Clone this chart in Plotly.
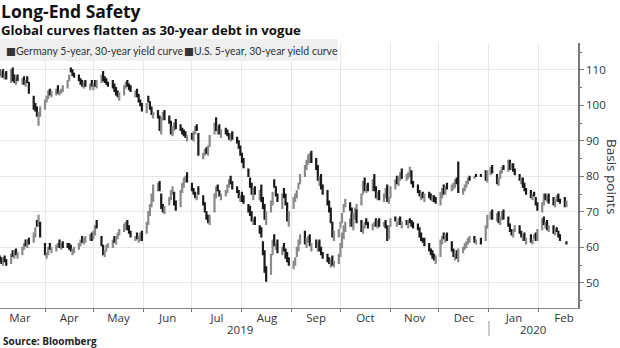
import pandas as pd
import plotly.graph_objects as go

# ---- data (weekly rows of business days, Mon..Fri; None = holiday) ----
start_date = "2019-03-04"

de_open = [
    [110,108,110,107.5,109.5],[106.5,110.5,108.5,106,108.5],[106,108,105.5,108,106.5],
    [102.5,100.5,99.5,94.5,97],[99,101,102,104.5,102.5],[103,105.5,103,103.5,104],
    [105,107,110.5,110,109],[108.5,107.5,107,105,107],[104.5,107,104.5,107,105],
    [106.5,109.5,108,107.5,106.5],[107,106,105,104,101.5],[103,105,107,106,105.5],
    [102.5,104.5,103,101.5,100.5],[98,102.5,101,99.5,96.5],[98.5,97,92,96,98.5],
    [97,95.5,91.5,93,96],[94.5,93.5,93,92.5,90],[92,90,92,94.5,92],
    [85,86,88,86,88.5],[92,96.5,92,94.5,91],[93.5,93,92,90,92.5],
    [91,90,88.5,86.5,85],[82,79.5,78,73.5,77],[73.5,77.5,74,72,66.5],
    [70,72,79,77,75],[71,76.5,75,72.5,66],[71,73,74,76.5,78],
    [80,82,83.5,84,87],[85,83,77.5,80.5,77.5],[76,73,71,67,62],
    [63,65.5,67,70,71.5],[72.5,71,68,69.5,70.5],[72,75,79.5,75.5,78],
    [76,80.5,77,73.5,76],[73,74,77.5,72.5,74],[76.5,80,77.5,79,82],
    [79,79.5,80,81.5,78.5],[77.5,76,73.5,75.5,73],[75.5,75,73,74.5,74],
    [72,74,77.5,75,78],[76,76.5,77,79.5,84],[75,76,77,78,80],
    [79.5,80.5,None,None,80.5],[81.5,78.5,None,80.5,83],[80.5,77.5,79.5,81,83],
    [81.5,84.5,82,83.5,82],[80.5,78,79.5,78,76.5],[76,73.5,75.5,74,72.5],
    [70,72,75,73,75],[74,71.5,73,75,73.5],[74,71.5],
]
de_close = [
    [108.5,109.5,108,109,107.5],[110,107,106.5,108,107],[107.5,106,107,106.5,103.5],
    [99,98.5,97,98,99.5],[101.5,102.5,104,103,104],[104.5,103.5,104,104.5,105.5],
    [107,108.5,109.5,108.5,108],[107,106,105.5,106.5,105.5],[106,105.5,106,105.5,107],
    [108.5,107,106.5,106,105.5],[105,104,103,102.5,103.5],[105.5,106.5,105.5,104.5,104],
    [104,102.5,101,100,98.5],[100.5,101,99,97.5,98],[96.5,93,96.5,98,96],
    [95,92,94,95,93.5],[93,92,91.5,91,91.5],[90.5,92.5,94,93,86],
    [86.5,87.5,86.5,88.5,91.5],[95,93,94,92,93],[92,91.5,90.5,92,90.5],
    [89.5,88,86,84,82.5],[80,77,75,76.5,75],[76,73,71,68,70],
    [73,75.5,77,74.5,73],[75,74,72,67.5,70],[74,75,76,78,80.5],
    [83,84.5,86,86.5,84],[82,79,80,76.5,75],[72,70,67,63,64.5],
    [65,67,69.5,72,73.5],[70.5,68.5,69.5,71,72],[75,78.5,76,77.5,76],
    [79,76,74,75.5,73.5],[75,76.5,73,74,77],[79,78,80,81,79.5],
    [80.5,81,82.5,78,77],[75.5,74.5,75,74,75],[74,73.5,74.5,73,72.5],
    [75.5,76.5,75,77,76.5],[77.5,78,79,78,75.5],[76.5,77.5,78.5,79.5,79],
    [80,80,None,None,80],[79,81.5,None,82.5,81],[78,79.5,81.5,82.5,82],
    [84.5,82,83.5,81.5,80.5],[79,79.5,77,76,75],[74,75,74.5,72,70.5],
    [72.5,75,73.5,74.5,72.5],[72,73.5,74.5,73,72.5],[71.5,73],
]

us_open = [
    [57.5,57,55,57.5,56.5],[55.5,59,57,59.5,57],[58,59.5,62,60,62.5],
    [61.5,63,67.5,66,67],[61,57,58,61,58.5],[59,60,62,59.5,61.5],
    [61,61,60.5,58,58.5],[59.5,60.5,63,61,61.5],[62,64,62.5,63.5,67.5],
    [63,60.5,57.5,59,60],[60,63,61,62.5,63.5],[64.5,65,67.5,66,64.5],
    [62,64,61.5,62,64.5],[64,66.5,69,71.5,73],[76,78.5,75,72,69.5],
    [72,73.5,75,75.5,73],[71.5,75.5,77,78.5,81],[78,76.5,75.5,73.5,77],
    [74.5,72.5,70,69,66.5],[70,74,77.5,76,73.5],[74.5,75.5,77,80,78.5],
    [77,76,73,75.5,74.5],[72,71.5,70,66.5,68.5],[66,65.5,61.5,59,54.5],
    [52.5,58,63.5,59.5,62],[58,61,59.5,58.5,57],[54,55,57.5,59,61],
    [64.5,60,61.5,63.5,59],[62,59,62,60,58.5],[58,57,54.5,57.5,54.5],
    [55.5,57.5,60,62.5,64.5],[66,69,65,68,70.5],[67.5,64,65.5,68,67],
    [65,66,68,65.5,68],[66,67.5,66,62.5,66],[68.5,66,66.5,68.5,65.5],
    [67.5,65.5,68,67.5,67],[66.5,65.5,64,62.5,62.5],[61,59.5,59,58,55.5],
    [57.5,61,64,61.5,64],[61.5,59.5,56.5,59,56],[58.5,59.5,60,61,61.5],
    [63,61,None,None,62.5],[62,65.5,None,68,70.5],[67.5,70,66.5,68,70.5],
    [68.5,66.5,65,63,64.5],[66,64.5,62,64,61],[63.5,61,62.5,64,62],
    [65,68.5,65.5,67.5,64.5],[66,63.5,65.5,64.5,63.5],[None,61.5],
]
us_close = [
    [56,55.5,57,56,55],[58,57.5,59,58,58.5],[60,61,60.5,62,61],
    [64,65.5,66,69,63],[58,58.5,60,59.5,60],[60.5,61,60,61,60],
    [60,59.5,59,59.5,60],[61,62,61.5,62.5,63],[63.5,62,64.5,66,65.5],
    [60.5,58,59,60.5,61],[62,61.5,63,64,65],[66.5,67,65,64,63],
    [63,62.5,63,64,62],[67,70,72,75,77.5],[78,76,71,70,71.5],
    [74,76,77,72,70.5],[76,78,79.5,80,78.5],[76,75,74,74.5,75],
    [72,70,68,67,69],[75,77,76,74.5,75],[76,77.5,79,78,76.5],
    [75.5,74,74.5,73,72.5],[70,69,67.5,68,66.5],[64,63,58,53,50.5],
    [58,62,60.5,61,58.5],[60,59,57,56,55],[56,57,60,62,63.5],
    [61,62.5,63,60.5,61],[60,61.5,59,58,57],[56,55.5,56.5,55,56],
    [58,61,64,66,67],[68,66,69,70,67],[64.5,66,67,66.5,65.5],
    [66.5,67,66,67.5,66],[67,65.5,62,66,68],[67.5,67,68,66.5,67],
    [66.5,67.5,67,66,65.5],[65,63,62,61.5,60.5],[59,58,57,56.5,57.5],
    [62,63,62.5,63.5,62],[59,57.5,58,57,59.5],[60,61,61.5,62.5,63],
    [61.5,62,None,None,61],[66,69,None,70,68],[69.5,67,68.5,70,68],
    [66,64.5,63.5,65,66],[64,63,63.5,62,62.5],[61.5,62,63.5,62,65],
    [68,66.5,67,65,66],[64,65,64.5,63,62],[None,61],
]

series_names = ["Germany 5-year, 30-year yield curve", "U.S. 5-year, 30-year yield curve"]
y_ticks = [50, 60, 70, 80, 90, 100, 110]
year_labels = [("2019", "2019-07-31"), ("2020", "2020-01-28")]
title = "Long-End Safety"
subtitle = "Global curves flatten as 30-year debt in vogue"

# ---- build figure ----
W, H = 620, 348
L, R, T, B = 0, 42, 43, 40
plot_h = H - T - B


def py(px):
    """pixel from top -> paper y"""
    return (H - B - px) / plot_h


def px_x(px):
    return (px - L) / (W - L - R)


def flat(rows):
    return [v for r in rows for v in r]


def frame(op_rows, cl_rows):
    o = flat(op_rows)
    c = flat(cl_rows)
    d = pd.bdate_range(start_date, periods=len(o))
    df = pd.DataFrame({"date": d, "open": o, "close": c}).dropna()
    df["high"] = df[["open", "close"]].max(axis=1)
    df["low"] = df[["open", "close"]].min(axis=1)
    return df


fig = go.Figure()
for op, cl, name in [(de_open, de_close, series_names[0]), (us_open, us_close, series_names[1])]:
    df = frame(op, cl)
    fig.add_trace(go.Candlestick(
        x=df["date"], open=df["open"], high=df["high"], low=df["low"], close=df["close"],
        name=name, showlegend=False, whiskerwidth=0,
        increasing=dict(line=dict(color="#8a8a8a", width=1.4), fillcolor="#8a8a8a"),
        decreasing=dict(line=dict(color="#1a1a1a", width=1.4), fillcolor="#1a1a1a"),
    ))

font_main = "Open Sans, Roboto, DejaVu Sans, sans-serif"
font_legend = "Lato, Roboto, DejaVu Sans, sans-serif"

fig.update_layout(
    width=W, height=H,
    margin=dict(l=L, r=R, t=T, b=B, pad=0),
    paper_bgcolor="white", plot_bgcolor="white",
    font=dict(family=font_main, size=11, color="#333333"),
    xaxis=dict(
        type="date",
        range=["2019-03-04 03:00", "2020-02-25 04:00"],
        rangeslider=dict(visible=False),
        dtick="M1", tick0="2019-03-01", tickformat="%b", ticklabelmode="period",
        ticks="outside", ticklen=3, tickcolor="#777777", tickwidth=1,
        ticklabelstandoff=-4,
        showgrid=True, gridcolor="#e6e6e6", gridwidth=1,
        showline=True, linecolor="#888888", linewidth=1,
        tickfont=dict(size=11.5, color="#333333"),
        zeroline=False, fixedrange=True,
    ),
    yaxis=dict(
        side="right", range=[42.9, 117.6],
        tickvals=y_ticks, ticks="outside", ticklen=4, tickcolor="#777777",
        minor=dict(dtick=5, tick0=0, ticks="outside", ticklen=2, tickcolor="#777777", showgrid=False),
        showgrid=True, gridcolor="#e6e6e6", gridwidth=1,
        showline=True, linecolor="#777777", linewidth=1.5,
        tickfont=dict(size=11.5, color="#333333"),
        zeroline=False, fixedrange=True,
    ),
)

# legend band
fig.add_shape(type="rect", xref="paper", yref="paper",
              x0=px_x(0), x1=px_x(338), y0=py(61), y1=py(39),
              fillcolor="#efefef", line=dict(width=0), layer="above")

ann = []
ann.append(dict(
    text=("<span style='font-size:17.5px'><b>" + title + "</b></span><br>"
          "<b>" + subtitle + "</b>"),
    x=px_x(0), y=py(40), xref="paper", yref="paper",
    xanchor="left", yanchor="bottom", align="left", showarrow=False, borderpad=0,
    font=dict(family=font_main, size=13.2, color="#111111")))
ann.append(dict(text="<b>Source: Bloomberg</b>", x=px_x(1), y=py(341), xref="paper", yref="paper",
                xanchor="left", yanchor="middle", showarrow=False,
                font=dict(family=font_main, size=10, color="#222222")))
for xpos, name in [(4, series_names[0]), (182, series_names[1])]:
    ann.append(dict(text="■" + name, x=px_x(xpos), y=py(51), xref="paper", yref="paper",
                    xanchor="left", yanchor="middle", showarrow=False,
                    font=dict(family=font_legend, size=10.5, color="#333333")))
ann.append(dict(text="Basis points", x=px_x(612), y=py(176), xref="paper", yref="paper",
                xanchor="center", yanchor="middle", textangle=90, showarrow=False,
                font=dict(family=font_main, size=13.5, color="#333333")))
for label, xd in year_labels:
    ann.append(dict(text=label, x=xd, y=py(329), xref="x", yref="paper",
                    xanchor="center", yanchor="middle", showarrow=False,
                    font=dict(family=font_main, size=11.5, color="#333333")))
fig.update_layout(annotations=ann)

# year separator
fig.add_shape(type="line", xref="x", yref="paper", x0="2020-01-01", x1="2020-01-01",
              y0=py(321), y1=py(336), line=dict(color="#bbbbbb", width=1.5))

fig.write_html("out.html")
